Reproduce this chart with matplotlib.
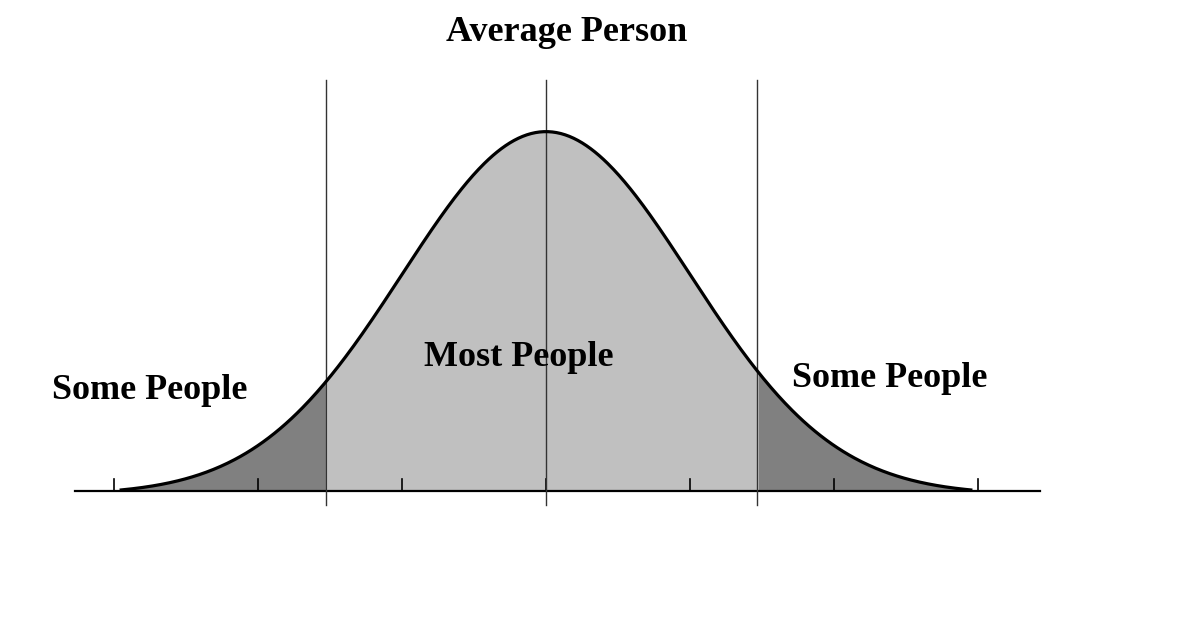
import numpy as np
import matplotlib.pyplot as plt

# x in standard deviations, y relative to the peak height
ticks = [-3, -2, -1, 0, 1, 2, 3]
cut_left = -1.53
cut_right = 1.465
labels = ["Average Person", "Most People", "Some People", "Some People"]
label_x = [0.14, -0.19, -2.75, 2.39]
label_y = [1.262, 0.369, 0.278, 0.309]

z = np.linspace(-2.95, 2.95, 600)
y = np.exp(-z**2 / 2)
y = np.clip(y - 0.01, 0, None)

fig = plt.figure(figsize=(12, 6.3), dpi=100)
ax = fig.add_axes([0, 0, 1, 1])
ax.set_xlim(-546/144, 654/144)
ax.set_ylim(-139/363, 491/363)
ax.axis("off")

mid = (z >= cut_left) & (z <= cut_right)
ax.fill_between(z, 0, y, where=mid, color="#c0c0c0", lw=0)
ax.fill_between(z, 0, y, where=z <= cut_left, color="#808080", lw=0, interpolate=True)
ax.fill_between(z, 0, y, where=z >= cut_right, color="#808080", lw=0, interpolate=True)

ax.plot([-3.27, 3.43], [0, 0], color="black", lw=1.6)
for t in ticks:
    ax.plot([t, t], [0, 0.033], color="black", lw=1.2)
for v in [cut_left, 0, cut_right]:
    ax.plot([v, v], [-0.039, 1.132], color="#333333", lw=1.0)

ax.plot(z, y, color="black", lw=2.3)

for s, lx, ly in zip(labels, label_x, label_y):
    ax.text(lx, ly, s, ha="center", va="center", fontsize=26,
            fontweight="bold", family="Liberation Serif")

fig.savefig("out.png")
